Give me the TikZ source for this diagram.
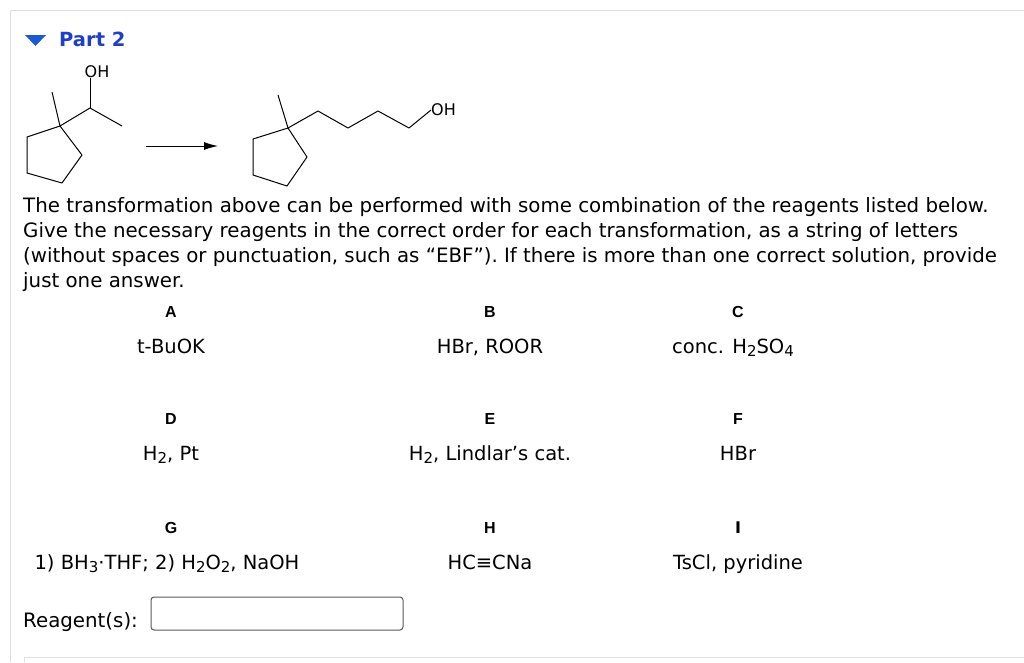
\documentclass[tikz,border=0pt]{standalone}
\usetikzlibrary{arrows.meta}
\usepackage{fontspec}
\setmainfont{DejaVu Sans}
\newfontfamily\hdfont{Liberation Sans}
\definecolor{partblue}{HTML}{1F3FC8}
\definecolor{frame}{HTML}{E2DED8}
\newcommand{\sbs}[1]{\raisebox{-3.5pt}{\fontsize{15}{16}\selectfont #1}}
\begin{document}
\begin{tikzpicture}[x=1pt,y=-1pt,
  bond/.style={line width=1pt,line join=round},
  body/.style={font=\fontsize{19.8}{22}\selectfont,inner sep=0pt,anchor=base west},
  lett/.style={font=\hdfont\bfseries\fontsize{16}{18}\selectfont,inner sep=0pt,anchor=base},
  reag/.style={font=\fontsize{19.5}{22}\selectfont,inner sep=0pt,anchor=base},
  atom/.style={font=\fontsize{16}{18}\selectfont,inner sep=0pt}]
\useasboundingbox (0,0) rectangle (1024,662);
\fill[white] (0,0) rectangle (1024,662);
\draw[frame,line width=1pt] (10,662) -- (10,10) -- (1024,10);
\draw[frame,line width=1pt] (24,662) -- (24,657) -- (1024,657);
% Part 2
\fill[partblue!85!cyan] (25,35) -- (46,35) -- (35.5,46) -- cycle;
\node[font=\bfseries\fontsize{19.5}{22}\selectfont,text=partblue,inner sep=0pt,anchor=base west] (part) at (59,46) {Part 2};
% left molecule
\coordinate (q) at (60,126);
\draw[bond] (q) -- (82,155) -- (62,183) -- (27,173) -- (27,137) -- cycle;
\draw[bond] (q) -- (52,92);
\coordinate (ch) at (90,108);
\draw[bond] (q) -- (ch) -- (122,126);
\node[atom] (oh1) at (97,72) {OH};
\draw[bond] (ch) -- (oh1.south -| ch);
% arrow
\coordinate (a1) at (146,146); \coordinate (a2) at (218,146);
\draw[line width=1pt,-{Latex[length=14pt,width=8pt]}] (a1) -- (a2);
% right molecule
\coordinate (q2) at (288,128);
\draw[bond] (q2) -- (307,157) -- (287,186) -- (253,175) -- (253,139) -- cycle;
\draw[bond] (q2) -- (278,95);
\node[atom,anchor=west] (oh2) at (431,110) {OH};
\draw[bond] (q2) -- (318,111) -- (348,128) -- (378,111) -- (409,128) -- (oh2.west);
% text
\node[body] (t1) at (23,212) {The transformation above can be performed with some combination of the reagents listed below.};
\node[body] (t2) at (23,237) {Give the necessary reagents in the correct order for each transformation, as a string of letters};
\node[body] (t3) at (23,262) {(without spaces or punctuation, such as “EBF”). If there is more than one correct solution, provide};
\node[body] (t4) at (23,287) {just one answer.};
% reagents
\node[lett] (lA) at (171,317) {A};
\node[lett] (lB) at (490,317) {B};
\node[lett] (lC) at (738,317) {C};
\node[reag] (rA) at (171,353) {t-BuOK};
\node[reag] (rB) at (490,353) {HBr, ROOR};
\node[reag] (rC) at (733,353) {conc. H\sbs{2}SO\sbs{4}};
\node[lett] (lD) at (171,424) {D};
\node[lett] (lE) at (490,424) {E};
\node[lett] (lF) at (738,424) {F};
\node[reag] (rD) at (171,460) {H\sbs{2}, Pt};
\node[reag] (rE) at (490,460) {H\sbs{2}, Lindlar{\char"0027}s cat.};
\node[reag] (rF) at (738,460) {HBr};
\node[lett] (lG) at (171,533) {G};
\node[lett] (lH) at (490,533) {H};
\node[lett,font=\fontsize{16}{18}\selectfont\bfseries] (lI) at (738,533) {I};
\node[reag] (rG) at (167,569) {1) BH\sbs{3}·THF; 2) H\sbs{2}O\sbs{2}, NaOH};
\node[reag] (rH) at (490,569) {HC≡CNa};
\node[reag] (rI) at (738,569) {TsCl, pyridine};
% answer box
\node[body] (rg) at (23,627) {Reagent(s):};
\draw[gray!70!black,line width=1pt,rounded corners=3pt] (151,597) rectangle (403,630);
\end{tikzpicture}
\end{document}
